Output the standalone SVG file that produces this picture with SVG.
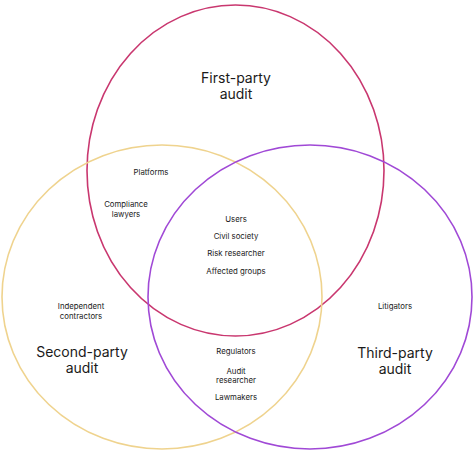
<svg xmlns="http://www.w3.org/2000/svg" width="474" height="474" viewBox="0 0 474 474">
<style>
.c{fill:none;stroke-width:1.6}
.t{font-family:Inter,"Liberation Sans",sans-serif;fill:#1a1a1a;text-anchor:middle}
.big{font-size:14px}
.sm{font-size:7.8px}
</style>
<rect width="474" height="474" fill="#fff"/>
<g id="connectors"></g>
<g id="first-party">
<ellipse class="c" cx="235.5" cy="170.5" rx="148.5" ry="165.5" stroke="#c9376f"/>
<text class="t big" x="236" y="83">First-party</text>
<text class="t big" x="236" y="99">audit</text>
</g>
<g id="second-party">
<ellipse class="c" cx="162" cy="297" rx="160" ry="152" stroke="#efd38e"/>
<text class="t big" x="82" y="357">Second-party</text>
<text class="t big" x="82" y="373">audit</text>
</g>
<g id="third-party">
<ellipse class="c" cx="310" cy="297" rx="162" ry="152" stroke="#a049d6"/>
<text class="t big" x="395" y="358">Third-party</text>
<text class="t big" x="395" y="374">audit</text>
</g>
<g id="labels">
<text class="t sm" x="151" y="175">Platforms</text>
<text class="t sm" x="126" y="207">Compliance</text>
<text class="t sm" x="126" y="217">lawyers</text>
<text class="t sm" x="236" y="222">Users</text>
<text class="t sm" x="236" y="239">Civil society</text>
<text class="t sm" x="236" y="256">Risk researcher</text>
<text class="t sm" x="236" y="274">Affected groups</text>
<text class="t sm" x="81" y="309">Independent</text>
<text class="t sm" x="81" y="319">contractors</text>
<text class="t sm" x="395" y="309">Litigators</text>
<text class="t sm" x="236" y="354">Regulators</text>
<text class="t sm" x="236" y="374">Audit</text>
<text class="t sm" x="236" y="383">researcher</text>
<text class="t sm" x="236" y="400">Lawmakers</text>
</g>
</svg>
